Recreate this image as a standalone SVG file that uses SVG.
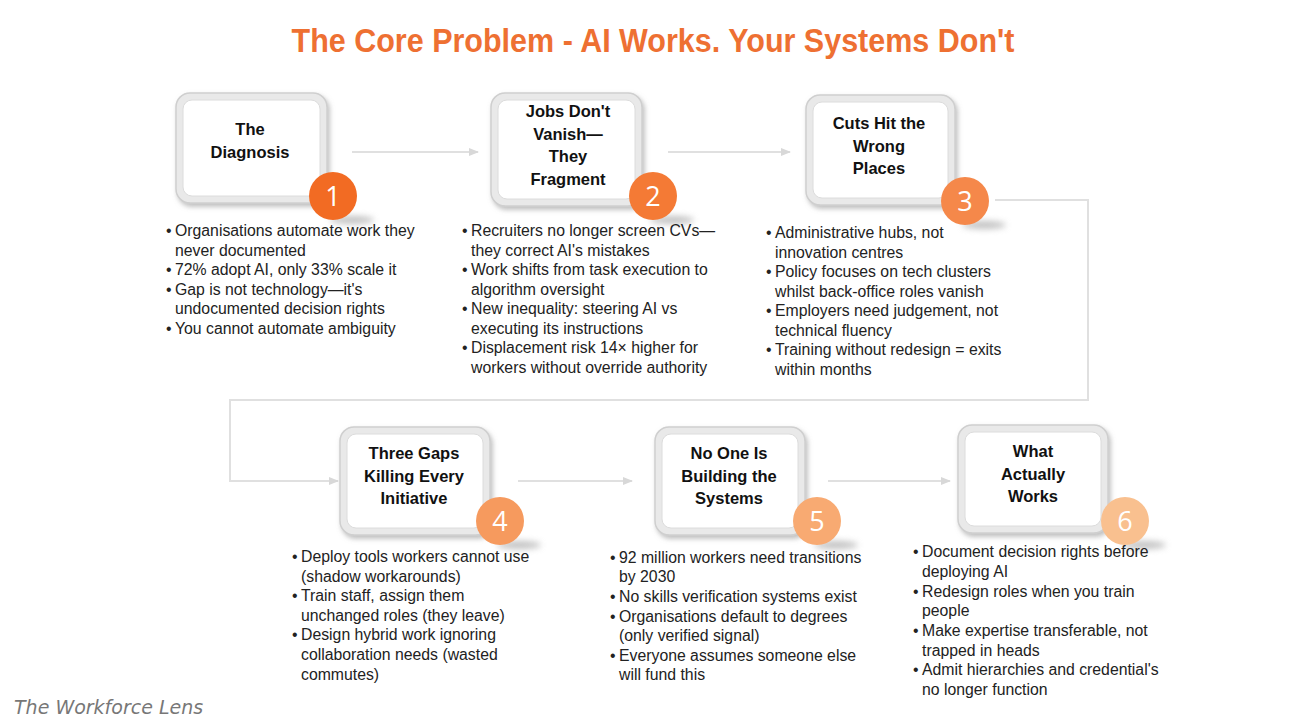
<svg xmlns="http://www.w3.org/2000/svg" width="1291" height="722" viewBox="0 0 1291 722">
<style>
.title{font-family:"Liberation Sans",Arial,sans-serif;font-weight:bold;font-size:33px;fill:#EE7032}
.frame{fill:#e9e9e9;stroke:#cfcfcf;stroke-width:1.5}
.inner{fill:#ffffff;stroke:#dcdcdc;stroke-width:1}
.nt{font-family:"Liberation Sans",Arial,sans-serif;font-weight:bold;font-size:16.5px;fill:#111;text-anchor:middle}
.num{font-family:"Open Sans","Liberation Sans",sans-serif;font-size:27px;fill:#fff;text-anchor:middle}
.bt{font-family:"Liberation Sans",Arial,sans-serif;font-size:15.8px;fill:#222}
.conn{fill:none;stroke:#e0e0e0;stroke-width:2}
.foot{font-family:"DejaVu Sans",sans-serif;font-style:italic;font-size:19px;fill:#777}
</style>
<defs>
<filter id="sh" x="-20%" y="-20%" width="140%" height="140%">
<feDropShadow dx="2" dy="3" stdDeviation="2.5" flood-color="#888" flood-opacity="0.55"/>
</filter>
<filter id="blur" x="-50%" y="-200%" width="200%" height="500%">
<feGaussianBlur stdDeviation="3"/>
</filter>
<marker id="ah" viewBox="0 0 10 10" refX="9" refY="5" markerWidth="5" markerHeight="5" orient="auto">
<path d="M0,1 L10,5 L0,9 z" fill="#d8d8d8"/>
</marker>
</defs>
<rect width="1291" height="722" fill="#ffffff"/>
<text class="title" x="653" y="52" text-anchor="middle" textLength="723" lengthAdjust="spacingAndGlyphs">The Core Problem - AI Works. Your Systems Don't</text>

<g id="connectors">
<line class="conn" x1="352" y1="152" x2="478" y2="152" marker-end="url(#ah)"/>
<line class="conn" x1="668" y1="152" x2="790" y2="152" marker-end="url(#ah)"/>
<path class="conn" d="M995,200 H1088 V400 H230 V481 H338" marker-end="url(#ah)"/>
<line class="conn" x1="518" y1="481" x2="632" y2="481" marker-end="url(#ah)"/>
<line class="conn" x1="828" y1="481" x2="950" y2="481" marker-end="url(#ah)"/>
</g>

<g id="node1">
<rect class="frame" x="176" y="93" width="151" height="110" rx="14" filter="url(#sh)"/>
<rect class="inner" x="183" y="100" width="137" height="96" rx="9"/>
<text class="nt" x="250" y="135">The</text>
<text class="nt" x="250" y="158">Diagnosis</text>
<ellipse cx="352" cy="220" rx="22" ry="4" fill="#999" opacity="0.6" filter="url(#blur)"/>
<circle cx="333" cy="196" r="24" fill="#F26B23"/>
<text class="num" x="333" y="206">1</text>
</g>

<g id="node2">
<rect class="frame" x="491" y="93" width="151" height="113" rx="14" filter="url(#sh)"/>
<rect class="inner" x="498" y="100" width="137" height="99" rx="9"/>
<text class="nt" x="568" y="117">Jobs Don't</text>
<text class="nt" x="568" y="140">Vanish—</text>
<text class="nt" x="568" y="162">They</text>
<text class="nt" x="568" y="185">Fragment</text>
<ellipse cx="672" cy="220" rx="22" ry="4" fill="#999" opacity="0.6" filter="url(#blur)"/>
<circle cx="653" cy="196" r="24" fill="#F47A35"/>
<text class="num" x="653" y="206">2</text>
</g>

<g id="node3">
<rect class="frame" x="806" y="95" width="149" height="110" rx="14" filter="url(#sh)"/>
<rect class="inner" x="813" y="102" width="135" height="96" rx="9"/>
<text class="nt" x="879" y="129">Cuts Hit the</text>
<text class="nt" x="879" y="152">Wrong</text>
<text class="nt" x="879" y="174">Places</text>
<ellipse cx="984" cy="225" rx="22" ry="4" fill="#999" opacity="0.6" filter="url(#blur)"/>
<circle cx="965" cy="201" r="24" fill="#F5884A"/>
<text class="num" x="965" y="211">3</text>
</g>

<g id="node4">
<rect class="frame" x="340" y="427" width="150" height="108" rx="14" filter="url(#sh)"/>
<rect class="inner" x="347" y="434" width="136" height="94" rx="9"/>
<text class="nt" x="414" y="459">Three Gaps</text>
<text class="nt" x="414" y="482">Killing Every</text>
<text class="nt" x="414" y="504">Initiative</text>
<ellipse cx="519" cy="545" rx="22" ry="4" fill="#999" opacity="0.6" filter="url(#blur)"/>
<circle cx="500" cy="521" r="24" fill="#F69A5E"/>
<text class="num" x="500" y="531">4</text>
</g>

<g id="node5">
<rect class="frame" x="655" y="427" width="150" height="108" rx="14" filter="url(#sh)"/>
<rect class="inner" x="662" y="434" width="136" height="94" rx="9"/>
<text class="nt" x="729" y="459">No One Is</text>
<text class="nt" x="729" y="482">Building the</text>
<text class="nt" x="729" y="504">Systems</text>
<ellipse cx="836" cy="545" rx="22" ry="4" fill="#999" opacity="0.6" filter="url(#blur)"/>
<circle cx="817" cy="521" r="24" fill="#F8AA72"/>
<text class="num" x="817" y="531">5</text>
</g>

<g id="node6">
<rect class="frame" x="958" y="425" width="150" height="108" rx="14" filter="url(#sh)"/>
<rect class="inner" x="965" y="432" width="136" height="94" rx="9"/>
<text class="nt" x="1033" y="457">What</text>
<text class="nt" x="1033" y="480">Actually</text>
<text class="nt" x="1033" y="502">Works</text>
<ellipse cx="1144" cy="545" rx="22" ry="4" fill="#999" opacity="0.6" filter="url(#blur)"/>
<circle cx="1125" cy="521" r="24" fill="#F9C08F"/>
<text class="num" x="1125" y="531">6</text>
</g>

<g id="bullets1" class="bt">
<text x="166" y="236">•</text><text x="175" y="236">Organisations automate work they</text>
<text x="175" y="256">never documented</text>
<text x="166" y="275">•</text><text x="175" y="275">72% adopt AI, only 33% scale it</text>
<text x="166" y="295">•</text><text x="175" y="295">Gap is not technology—it's</text>
<text x="175" y="314">undocumented decision rights</text>
<text x="166" y="334">•</text><text x="175" y="334">You cannot automate ambiguity</text>
</g>

<g id="bullets2" class="bt">
<text x="462" y="236">•</text><text x="471" y="236">Recruiters no longer screen CVs—</text>
<text x="471" y="256">they correct AI's mistakes</text>
<text x="462" y="275">•</text><text x="471" y="275">Work shifts from task execution to</text>
<text x="471" y="295">algorithm oversight</text>
<text x="462" y="314">•</text><text x="471" y="314">New inequality: steering AI vs</text>
<text x="471" y="334">executing its instructions</text>
<text x="462" y="353">•</text><text x="471" y="353">Displacement risk 14× higher for</text>
<text x="471" y="373">workers without override authority</text>
</g>

<g id="bullets3" class="bt">
<text x="766" y="238">•</text><text x="775" y="238">Administrative hubs, not</text>
<text x="775" y="258">innovation centres</text>
<text x="766" y="277">•</text><text x="775" y="277">Policy focuses on tech clusters</text>
<text x="775" y="297">whilst back-office roles vanish</text>
<text x="766" y="316">•</text><text x="775" y="316">Employers need judgement, not</text>
<text x="775" y="336">technical fluency</text>
<text x="766" y="355">•</text><text x="775" y="355">Training without redesign = exits</text>
<text x="775" y="375">within months</text>
</g>

<g id="bullets4" class="bt">
<text x="292" y="562">•</text><text x="301" y="562">Deploy tools workers cannot use</text>
<text x="301" y="582">(shadow workarounds)</text>
<text x="292" y="601">•</text><text x="301" y="601">Train staff, assign them</text>
<text x="301" y="621">unchanged roles (they leave)</text>
<text x="292" y="640">•</text><text x="301" y="640">Design hybrid work ignoring</text>
<text x="301" y="660">collaboration needs (wasted</text>
<text x="301" y="680">commutes)</text>
</g>

<g id="bullets5" class="bt">
<text x="610" y="563">•</text><text x="619" y="563">92 million workers need transitions</text>
<text x="619" y="582">by 2030</text>
<text x="610" y="602">•</text><text x="619" y="602">No skills verification systems exist</text>
<text x="610" y="622">•</text><text x="619" y="622">Organisations default to degrees</text>
<text x="619" y="641">(only verified signal)</text>
<text x="610" y="661">•</text><text x="619" y="661">Everyone assumes someone else</text>
<text x="619" y="680">will fund this</text>
</g>

<g id="bullets6" class="bt">
<text x="913" y="557">•</text><text x="922" y="557">Document decision rights before</text>
<text x="922" y="577">deploying AI</text>
<text x="913" y="597">•</text><text x="922" y="597">Redesign roles when you train</text>
<text x="922" y="616">people</text>
<text x="913" y="636">•</text><text x="922" y="636">Make expertise transferable, not</text>
<text x="922" y="656">trapped in heads</text>
<text x="913" y="675">•</text><text x="922" y="675">Admit hierarchies and credential's</text>
<text x="922" y="695">no longer function</text>
</g>

<text class="foot" x="14" y="714">The Workforce Lens</text>
</svg>
